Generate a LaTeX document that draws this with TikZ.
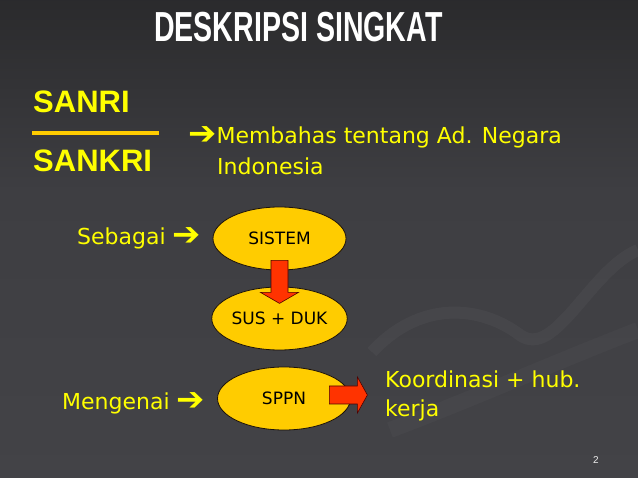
\documentclass[tikz,border=0pt]{standalone}
\usepackage{fontspec}
\setmainfont{DejaVu Sans}
\newfontfamily\arialfont{Liberation Sans}
\usetikzlibrary{shapes.geometric}
\definecolor{slideyellow}{HTML}{FFFF00}
\definecolor{ovalgold}{HTML}{FFCC00}
\definecolor{arrowred}{HTML}{FF3300}
\definecolor{bgtop}{HTML}{161616}
\definecolor{bgmid}{HTML}{3E3E42}
\definecolor{bgbot}{HTML}{47474B}
\pgfdeclareverticalshading{slidebg}{100bp}{color(0bp)=(bgbot); color(55bp)=(bgmid); color(96bp)=(bgtop); color(98bp)=(black); color(100bp)=(black)}
\newcommand{\wingarrow}{\raisebox{-0.5pt}{\scalebox{1.3}[1.25]{\fontsize{26}{26}\selectfont ➔}}}
\begin{document}
\begin{tikzpicture}[x=1pt,y=-1pt,
  oval/.style={ellipse,draw=black!85!brown,line width=0.8pt,fill=ovalgold,minimum width=133pt,minimum height=63pt,inner sep=0pt,font=\fontsize{17}{19}\selectfont},
  yell/.style={text=slideyellow,inner sep=0pt,anchor=base west,font=\fontsize{22}{26}\selectfont},
  bigsans/.style={text=slideyellow,inner sep=0pt,anchor=base west,font=\arialfont\bfseries\fontsize{31}{36}\selectfont},
  blockarrow/.style={fill=arrowred,draw=black!70!red,line width=0.6pt}]
\fill[shading=slidebg] (0,0) rectangle (638,478);
\useasboundingbox (0,0) rectangle (638,478);
\draw[white,opacity=0.035,line width=12pt] (372,352) .. controls (420,300) and (480,305) .. (520,335) .. controls (555,360) and (590,270) .. (638,250);
\draw[white,opacity=0.025,line width=16pt] (390,430) .. controls (470,400) and (560,360) .. (638,330);
\node[anchor=base west,inner sep=0pt,text=white,font=\arialfont\bfseries\fontsize{42}{48}\selectfont] (title) at (154,42) {\scalebox{0.68}[1]{DESKRIPSI SINGKAT}};
\node[bigsans] (sanri) at (33,113) {SANRI};
\node[bigsans] (sankri) at (33,172) {SANKRI};
\draw[ovalgold,line width=4pt] (32,133) -- (159,133);
\node[yell] (membahas) at (188,144) {\wingarrow Membahas tentang Ad. Negara};
\node[yell] (indonesia) at (217,175) {Indonesia};
\node[yell] (sebagai) at (77,245) {Sebagai \wingarrow};
\node[yell] (mengenai) at (62,410) {Mengenai \wingarrow};
\node[yell] (koord) at (385,388) {Koordinasi + hub.};
\node[yell] (kerja) at (385,417) {kerja};
\node[oval] (sistem) at (279.5,238.5) {SISTEM};
\node[oval] (susduk) at (279.5,318.5) {SUS + DUK};
\node[oval] (sppn) at (284,398.5) {SPPN};
\draw[blockarrow,shift={(sistem.south)}] (-8.5,-10) -- (8.5,-10) -- (8.5,22) -- (19,22) -- (0,33) -- (-19,22) -- (-8.5,22) -- cycle;
\draw[blockarrow,shift={(sppn.east)}] (-21.5,-12.5) -- (6.5,-12.5) -- (6.5,-21.5) -- (16.5,-3.5) -- (6.5,14.5) -- (6.5,5.5) -- (-21.5,5.5) -- cycle;
\node[text=white!85!gray,inner sep=0pt,font=\arialfont\fontsize{10}{12}\selectfont] (pagenum) at (596,460) {2};
\end{tikzpicture}
\end{document}
